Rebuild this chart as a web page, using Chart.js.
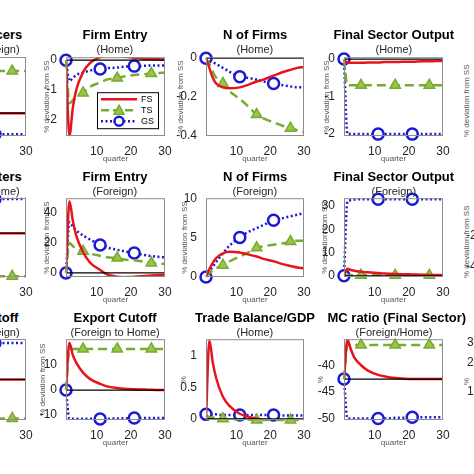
<!DOCTYPE html>
<html>
<head>
<meta charset="utf-8">
<script src="https://cdn.jsdelivr.net/npm/chart.js@4/dist/chart.umd.min.js"></script>
<style>
  body { margin: 0; width: 474px; height: 474px; overflow: hidden; background: #fff; position: relative; font-family: "Liberation Sans", Arial, sans-serif; }
  canvas { position: absolute; }
  .t { position: absolute; font-weight: bold; font-size: 13px; color: #000; white-space: nowrap; }
  .s { position: absolute; font-size: 11px; color: #262626; white-space: nowrap; }
  .r { position: absolute; font-size: 8px; color: #555; white-space: nowrap; transform: rotate(-90deg); transform-origin: left top; }
  .k { position: absolute; font-size: 12px; color: #262626; }
</style>
</head>
<body>
<script>
// quarters sampled
const quarters = [1, 2, 3, 4, 6, 8, 11, 13, 16, 18, 21, 24, 26, 28, 30];

// row 1
const entryHomeFS = [0, -2.55, -1.6, -1.0, -0.4, -0.1, 0.1, 0.15, 0.15, 0.12, 0.08, 0.05, 0.04, 0.03, 0.02];
const entryHomeTS = [0, -1.45, -1.35, -1.25, -1.1, -0.9, -0.75, -0.65, -0.6, -0.55, -0.5, -0.47, -0.45, -0.43, -0.42];
const entryHomeGS = [0, -0.7, -0.6, -0.5, -0.42, -0.35, -0.3, -0.27, -0.25, -0.22, -0.2, -0.19, -0.18, -0.18, -0.18];
const firmsHomeFS = [0, -0.05, -0.1, -0.13, -0.15, -0.155, -0.15, -0.14, -0.12, -0.11, -0.09, -0.07, -0.06, -0.05, -0.045];
const firmsHomeTS = [0, -0.03, -0.07, -0.1, -0.13, -0.17, -0.21, -0.24, -0.29, -0.31, -0.33, -0.35, -0.36, -0.37, -0.38];
const firmsHomeGS = [0, -0.01, -0.02, -0.03, -0.05, -0.07, -0.095, -0.1, -0.11, -0.12, -0.13, -0.14, -0.145, -0.15, -0.15];
const outHomeFS = [0, -0.1, -0.1, -0.1, -0.1, -0.09, -0.09, -0.08, -0.08, -0.07, -0.07, -0.06, -0.06, -0.05, -0.05];
const outHomeTS = [0, -0.7, -0.7, -0.7, -0.7, -0.7, -0.7, -0.7, -0.7, -0.7, -0.7, -0.7, -0.7, -0.7, -0.7];
const outHomeGS = [0, -2, -2, -2, -2, -2, -2, -2, -2, -2, -2, -2, -2, -2, -2];
const leftRow1FS = [-1.4, -1.4, -1.4, -1.4, -1.4, -1.4, -1.4, -1.4, -1.4, -1.4, -1.4, -1.4, -1.4, -1.4, -1.4];
const leftRow1TS = [-0.2, -0.2, -0.2, -0.2, -0.2, -0.2, -0.2, -0.2, -0.2, -0.2, -0.2, -0.2, -0.2, -0.2, -0.2];
const leftRow1GS = [-2, -2, -2, -2, -2, -2, -2, -2, -2, -2, -2, -2, -2, -2, -2];

// row 2
const entryForFS = [0, 48, 35, 25, 14, 7, 2, -1, -2.5, -2.8, -2.5, -2, -1.7, -1.5, -1.3];
const entryForTS = [0, 20, 18, 16, 14.5, 13, 11.5, 10.5, 10, 9, 8.5, 7.5, 6.7, 6.3, 6];
const entryForGS = [0, 34, 31, 28.5, 25, 22.5, 18.7, 17, 15.5, 14.5, 13.3, 12, 11.3, 10.8, 10.5];
const firmsForFS = [0, 1, 1.8, 2.4, 3, 3.2, 3.1, 2.9, 2.6, 2.3, 2, 1.6, 1.4, 1.2, 1.1];
const firmsForTS = [0, 0.5, 0.8, 1.1, 1.5, 2.0, 2.6, 3.0, 3.7, 3.9, 4.1, 4.3, 4.5, 4.6, 4.6];
const firmsForGS = [0, 0.7, 1.3, 1.9, 3, 4, 5.0, 5.6, 6.2, 6.6, 7.2, 7.5, 7.7, 7.9, 8.1];
const outForFS = [0, 3, 2.5, 2.2, 1.8, 1.5, 1.2, 1.0, 0.8, 0.7, 0.6, 0.5, 0.4, 0.4, 0.3];
const outForTS = [0, 0.2, 0.2, 0.2, 0.2, 0.2, 0.2, 0.2, 0.2, 0.2, 0.2, 0.2, 0.2, 0.2, 0.2];
const outForGS = [0, 32, 32.5, 32.8, 33, 33, 33, 33, 33, 33, 33, 33, 33, 33, 33];
const leftRow2FS = [18.5, 18.5, 18.5, 18.5, 18.5, 18.5, 18.5, 18.5, 18.5, 18.5, 18.5, 18.5, 18.5, 18.5, 18.5];
const leftRow2TS = [0.3, 0.3, 0.3, 0.3, 0.3, 0.3, 0.3, 0.3, 0.3, 0.3, 0.3, 0.3, 0.3, 0.3, 0.3];
const leftRow2GS = [33, 33, 33, 33, 33, 33, 33, 33, 33, 33, 33, 33, 33, 33, 33];

// row 3
const cutoffFS = [0, 19, 14, 11, 7, 4.5, 2.5, 1.5, 0.8, 0.5, 0.3, 0.2, 0.1, 0.05, 0];
const cutoffTS = [0, 16.5, 16.5, 16.5, 16.5, 16.5, 16.5, 16.5, 16.5, 16.5, 16.5, 16.5, 16.5, 16.5, 16.5];
const cutoffGS = [0, -11.5, -11.5, -11.5, -11.5, -11.5, -11.6, -11.5, -11.4, -11.3, -11.2, -11.2, -11.2, -11.2, -11.2];
const tradeFS = [0, 1.25, 0.9, 0.65, 0.35, 0.2, 0.08, 0.04, 0.0, -0.02, -0.03, -0.04, -0.05, -0.05, -0.05];
const tradeTS = [0.05, 0.03, 0.02, 0.01, 0, -0.01, -0.01, -0.01, -0.02, -0.02, -0.02, -0.02, -0.02, -0.02, -0.02];
const tradeGS = [0.07, 0.07, 0.07, 0.07, 0.06, 0.06, 0.06, 0.06, 0.06, 0.06, 0.06, 0.05, 0.05, 0.05, 0.05];
const mcFS = [-42.6, -35.2, -37, -38.5, -40, -41, -41.8, -42.1, -42.4, -42.5, -42.6, -42.6, -42.6, -42.6, -42.6];
const mcTS = [-42.6, -36.2, -36.2, -36.2, -36.2, -36.2, -36.2, -36.2, -36.2, -36.2, -36.2, -36.2, -36.2, -36.2, -36.2];
const mcGS = [-42.6, -50, -50, -50, -50, -50, -50, -50, -49.9, -49.9, -49.8, -49.8, -49.8, -49.8, -49.8];
const leftRow3FS = [0.5, 0.5, 0.5, 0.5, 0.5, 0.5, 0.5, 0.5, 0.5, 0.5, 0.5, 0.5, 0.5, 0.5, 0.5];
const leftRow3TS = [0.02, 0.02, 0.02, 0.02, 0.02, 0.02, 0.02, 0.02, 0.02, 0.02, 0.02, 0.02, 0.02, 0.02, 0.02];
const leftRow3GS = [0.95, 0.95, 0.95, 0.95, 0.95, 0.95, 0.95, 0.95, 0.95, 0.95, 0.95, 0.95, 0.95, 0.95, 0.95];

const xTicks = [10, 20, 30];
const gsMarks = [1, 11, 21];
const tsMarks = [6, 16, 26];

const PT = 8, PR = 10, XH = 28;

const boxPlugin = {
  id: 'box',
  afterDraw(chart) {
    const a = chart.chartArea, c = chart.ctx;
    c.save();
    c.strokeStyle = '#8c8c8c'; c.lineWidth = 1;
    c.strokeRect(a.left + 0.5, a.top + 0.5, a.width - 1, a.height - 1);
    c.restore();
    const lg = chart.options.plugins.box && chart.options.plugins.box.legend;
    if (!lg) return;
    const x = a.left + lg[0], y = a.top + lg[1], w = 61, h = 36;
    c.save();
    c.fillStyle = '#fff'; c.fillRect(x, y, w, h);
    c.strokeStyle = '#000'; c.lineWidth = 1; c.strokeRect(x + 0.5, y + 0.5, w, h);
    const rows = [['FS', '#e8141c', [], null], ['TS', '#77ac30', [8, 4], 'tri'], ['GS', '#1a1ad4', [2, 2.5], 'circ']];
    rows.forEach((r, i) => {
      const yy = y + 7 + i * 11;
      c.strokeStyle = r[1]; c.lineWidth = 2.5; c.setLineDash(r[2]);
      c.beginPath(); c.moveTo(x + 4, yy); c.lineTo(x + 40, yy); c.stroke();
      c.setLineDash([]);
      if (r[3] === 'tri') {
        c.fillStyle = '#9bc34a'; c.lineWidth = 1.5;
        c.beginPath(); c.moveTo(x + 22, yy - 5); c.lineTo(x + 27, yy + 4); c.lineTo(x + 17, yy + 4); c.closePath(); c.fill(); c.stroke();
      } else if (r[3] === 'circ') {
        c.fillStyle = '#fff'; c.lineWidth = 2.5;
        c.beginPath(); c.arc(x + 22, yy, 4.5, 0, Math.PI * 2); c.fill(); c.stroke();
      }
      c.fillStyle = '#000'; c.font = '9px "Liberation Sans", Arial'; c.textBaseline = 'middle';
      c.fillText(r[0], x + 44, yy);
    });
    c.restore();
  }
};

function marks(list, r) {
  return quarters.map(q => list.includes(q) ? r : 0);
}

function panel(o) {
  const YW = o.yw || 26;
  const cv = document.createElement('canvas');
  const w = o.w + YW + PR, h = o.h + PT + XH;
  cv.style.left = (o.x - YW) + 'px'; cv.style.top = (o.y - PT) + 'px';
  cv.style.width = w + 'px'; cv.style.height = h + 'px';
  cv.width = w; cv.height = h;
  document.body.appendChild(cv);
  const pts = d => quarters.map((q, i) => ({ x: q, y: d[i] }));
  new Chart(cv, {
    type: 'line',
    data: {
      datasets: [
        { data: [{ x: 1, y: o.base }, { x: 30, y: o.base }], borderColor: '#000', borderWidth: 1.2, pointRadius: 0 },
        { data: pts(o.fs), borderColor: '#e8141c', borderWidth: 2.5, pointRadius: 0, cubicInterpolationMode: 'monotone' },
        { data: pts(o.ts), borderColor: '#77ac30', borderWidth: 2.5, borderDash: [9, 5], cubicInterpolationMode: 'monotone', clip: false,
          pointStyle: 'triangle', pointRadius: marks(tsMarks, 6), pointBackgroundColor: '#9bc34a', pointBorderColor: '#77ac30', pointBorderWidth: 1.5 },
        { data: pts(o.gs), borderColor: '#1a1ad4', borderWidth: 2.5, borderDash: [2, 2.5], cubicInterpolationMode: 'monotone', clip: false,
          pointRadius: marks(gsMarks, 5.5), pointBackgroundColor: '#fff', pointBorderColor: '#1a1ad4', pointBorderWidth: 2.5 }
      ]
    },
    options: {
      animation: false, responsive: false, devicePixelRatio: 1,
      layout: { padding: { top: PT, right: PR, left: 0, bottom: 0 } },
      plugins: { legend: { display: false }, tooltip: { enabled: false }, box: { legend: o.legend } },
      scales: {
        x: {
          type: 'linear', min: 1, max: 30,
          afterBuildTicks: s => { s.ticks = xTicks.map(v => ({ value: v })); },
          afterFit: s => { s.height = XH; },
          grid: { display: false }, border: { display: false },
          ticks: { font: { size: 12, family: 'Liberation Sans' }, color: '#262626', maxRotation: 0, padding: 0 },
          title: { display: true, text: 'quarter', font: { size: 8 }, color: '#555', padding: 0 }
        },
        y: {
          min: o.ymin, max: o.ymax,
          afterBuildTicks: s => { s.ticks = o.yt.map(v => ({ value: v })); },
          afterFit: s => { s.width = YW; },
          grid: { display: false }, border: { display: false },
          ticks: { font: { size: 12, family: 'Liberation Sans' }, color: '#262626', padding: 1, callback: v => String(v) },
          title: { display: o.yt.length > 0, text: o.yl, font: { size: 8 }, color: '#555', padding: 0 }
        }
      }
    },
    plugins: [boxPlugin]
  });
}

function label(cls, text, x, y, align) {
  const d = document.createElement('div');
  d.className = cls; d.textContent = text;
  d.style.top = y + 'px';
  document.body.appendChild(d);
  if (align === 'right') d.style.left = (x - d.offsetWidth) + 'px';
  else if (align === 'center') d.style.left = (x - d.offsetWidth / 2) + 'px';
  else d.style.left = x + 'px';
}

const dev = '% deviation from SS';
const R1 = 57, R2 = 198, R3 = 339;

panel({ x: -74, y: R1, w: 100, h: 79, fs: leftRow1FS, ts: leftRow1TS, gs: leftRow1GS, base: -1.4, ymin: -2.05, ymax: 0.2, yt: [], yl: dev });
panel({ x: 66, y: R1, w: 99, h: 79, yw: 24, fs: entryHomeFS, ts: entryHomeTS, gs: entryHomeGS, base: 0, ymin: -2.55, ymax: 0.1, yt: [-2, -1, 0], yl: dev, legend: [31, 35] });
panel({ x: 206, y: R1, w: 98, h: 79, yw: 30, fs: firmsHomeFS, ts: firmsHomeTS, gs: firmsHomeGS, base: 0, ymin: -0.4, ymax: 0.005, yt: [-0.4, -0.2, 0], yl: dev });
panel({ x: 344, y: R1, w: 99, h: 79, yw: 22, fs: outHomeFS, ts: outHomeTS, gs: outHomeGS, base: 0, ymin: -2.05, ymax: 0.05, yt: [-2, -1, 0], yl: dev });

panel({ x: -74, y: R2, w: 100, h: 79, fs: leftRow2FS, ts: leftRow2TS, gs: leftRow2GS, base: 18.5, ymin: 0, ymax: 33.4, yt: [], yl: dev });
panel({ x: 66, y: R2, w: 99, h: 79, yw: 24, fs: entryForFS, ts: entryForTS, gs: entryForGS, base: 0, ymin: -2.7, ymax: 50, yt: [0, 20, 40], yl: dev });
panel({ x: 206, y: R2, w: 98, h: 79, yw: 26, fs: firmsForFS, ts: firmsForTS, gs: firmsForGS, base: 0, ymin: 0, ymax: 10, yt: [0, 5, 10], yl: dev });
panel({ x: 344, y: R2, w: 99, h: 79, yw: 24, fs: outForFS, ts: outForTS, gs: outForGS, base: 0, ymin: -0.5, ymax: 33.4, yt: [0, 10, 20, 30], yl: dev });

panel({ x: -74, y: R3, w: 100, h: 81, fs: leftRow3FS, ts: leftRow3TS, gs: leftRow3GS, base: 0.5, ymin: 0, ymax: 1, yt: [], yl: dev });
panel({ x: 66, y: R3, w: 99, h: 81, yw: 28, fs: cutoffFS, ts: cutoffTS, gs: cutoffGS, base: 0, ymin: -12, ymax: 20.4, yt: [-10, 0, 10], yl: dev });
panel({ x: 206, y: R3, w: 98, h: 81, yw: 27, fs: tradeFS, ts: tradeTS, gs: tradeGS, base: 0, ymin: -0.02, ymax: 1.27, yt: [0, 0.5, 1], yl: '%' });
panel({ x: 344, y: R3, w: 99, h: 81, yw: 28, fs: mcFS, ts: mcTS, gs: mcGS, base: -42.6, ymin: -50.3, ymax: -35.1, yt: [-50, -45, -40], yl: '%' });

// titles
label('t', 'Producers', 22, 27, 'right');
label('s', '(Foreign)', 20, 43, 'right');
label('t', 'Firm Entry', 115, 27, 'center');
label('s', '(Home)', 115, 43, 'center');
label('t', 'N of Firms', 255, 27, 'center');
label('s', '(Home)', 255, 43, 'center');
label('t', 'Final Sector Output', 394, 27, 'center');
label('s', '(Home)', 394, 43, 'center');

label('t', 'Exporters', 22, 169, 'right');
label('s', '(Home)', 20, 185, 'right');
label('t', 'Firm Entry', 115, 169, 'center');
label('s', '(Foreign)', 115, 185, 'center');
label('t', 'N of Firms', 255, 169, 'center');
label('s', '(Foreign)', 255, 185, 'center');
label('t', 'Final Sector Output', 394, 169, 'center');
label('s', '(Foreign)', 394, 185, 'center');

label('t', 'Import Cutoff', 18, 310, 'right');
label('s', '(Foreign)', 20, 326, 'right');
label('t', 'Export Cutoff', 115, 310, 'center');
label('s', '(Foreign to Home)', 115, 326, 'center');
label('t', 'Trade Balance/GDP', 255, 310, 'center');
label('s', '(Home)', 255, 326, 'center');
label('t', 'MC ratio (Final Sector)', 397, 310, 'center');
label('s', '(Foreign/Home)', 394, 326, 'center');

// right-hand column, cut off at the edge
label('r', dev, 462, 137);
label('r', dev, 462, 278);
label('r', '%', 462, 385);
label('k', '-2', 466, 228);
label('k', '-4', 466, 259);
label('k', '3', 467, 335);
label('k', '2', 467, 355);
label('k', '1', 467, 384);
</script>
</body>
</html>
